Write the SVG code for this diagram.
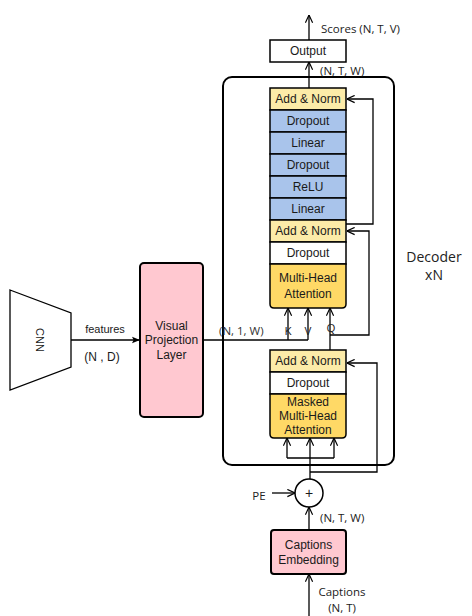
<svg xmlns="http://www.w3.org/2000/svg" width="472" height="616" viewBox="0 0 472 616">
<style>
.box{stroke:#000;stroke-width:1.5}
.thick{stroke:#000;stroke-width:2}
.an{fill:#FCEBA8}
.bl{fill:#A9C4EB}
.wh{fill:#fff}
.mh{fill:#FFD966}
.pk{fill:#FFC8D0}
.t{font-family:"Liberation Sans",Arial,sans-serif;font-size:12px;fill:#1a1a1a;text-anchor:middle;dominant-baseline:central}
.l{font-family:"Open Sans","Noto Sans",sans-serif;font-size:11.5px;fill:#222;dominant-baseline:central}
.c{fill:none;stroke:#000;stroke-width:1.3}
</style>
<defs>
<marker id="open" viewBox="0 0 10 10" refX="9.5" refY="5" markerWidth="9" markerHeight="9" markerUnits="userSpaceOnUse" orient="auto">
<path d="M1,1 L9.5,5 L1,9" fill="none" stroke="#000" stroke-width="1.3"/>
</marker>
<marker id="block" viewBox="0 0 10 10" refX="10" refY="5" markerWidth="8" markerHeight="8" markerUnits="userSpaceOnUse" orient="auto">
<path d="M0,1 L10,5 L0,9 L2,5 Z" fill="#000"/>
</marker>
</defs>
<rect width="472" height="616" fill="#fff"/>

<g id="decoder">
<rect x="223" y="77" width="171" height="388" rx="9" fill="none" class="thick"/>
<text class="l" x="434" y="256" text-anchor="middle" style="font-size:14px">Decoder</text>
<text class="l" x="434" y="274" text-anchor="middle" style="font-size:14px">xN</text>
</g>

<g id="output">
<rect x="270" y="40" width="76" height="22" class="box wh"/>
<text class="t" x="308" y="51">Output</text>
</g>

<g id="ff-stack">
<rect x="270" y="88" width="76" height="22" class="box an"/>
<text class="t" x="308" y="99">Add &amp; Norm</text>
<rect x="270" y="110" width="76" height="22" class="box bl"/>
<text class="t" x="308" y="121">Dropout</text>
<rect x="270" y="132" width="76" height="22" class="box bl"/>
<text class="t" x="308" y="143">Linear</text>
<rect x="270" y="154" width="76" height="22" class="box bl"/>
<text class="t" x="308" y="165">Dropout</text>
<rect x="270" y="176" width="76" height="22" class="box bl"/>
<text class="t" x="308" y="187">ReLU</text>
<rect x="270" y="198" width="76" height="22" class="box bl"/>
<text class="t" x="308" y="209">Linear</text>
</g>

<g id="cross-attn">
<rect x="270" y="220" width="76" height="22" class="box an"/>
<text class="t" x="308" y="231">Add &amp; Norm</text>
<rect x="270" y="242" width="76" height="22" class="box wh"/>
<text class="t" x="308" y="253">Dropout</text>
<path d="M270,264 H346 V304 Q346,308 342,308 H274 Q270,308 270,304 Z" class="box mh"/>
<text class="t" x="308" y="278">Multi-Head</text>
<text class="t" x="308" y="294">Attention</text>
</g>

<g id="self-attn">
<rect x="270" y="350" width="76" height="22" class="box an"/>
<text class="t" x="308" y="361">Add &amp; Norm</text>
<rect x="270" y="372" width="76" height="22" class="box wh"/>
<text class="t" x="308" y="383">Dropout</text>
<path d="M270,394 H346 V434 Q346,438 342,438 H274 Q270,438 270,434 Z" class="box mh"/>
<text class="t" x="308" y="402">Masked</text>
<text class="t" x="308" y="416">Multi-Head</text>
<text class="t" x="308" y="430">Attention</text>
</g>

<g id="cnn">
<polygon points="10,290 71,313 71,367 10,390" fill="#fff" stroke="#000" stroke-width="1.3"/>
<text class="t" x="40" y="340" transform="rotate(90 40 340)" style="font-size:11px">CNN</text>
</g>

<g id="visual-projection">
<rect x="140" y="263" width="63" height="154" rx="4" class="thick pk"/>
<text class="t" x="171.5" y="326">Visual</text>
<text class="t" x="171.5" y="340">Projection</text>
<text class="t" x="171.5" y="355">Layer</text>
</g>

<g id="pe-add">
<circle cx="309" cy="493" r="14" fill="#fff" stroke="#000" stroke-width="1.5"/>
<text class="t" x="309" y="493" style="font-size:14px">+</text>
</g>

<g id="captions-embedding">
<rect x="271" y="530" width="75" height="44" rx="3" class="thick pk"/>
<text class="t" x="308.5" y="545">Captions</text>
<text class="t" x="308.5" y="560">Embedding</text>
</g>

<g id="connectors">
<path class="c" d="M309,40 V15" marker-end="url(#open)"/>
<path class="c" d="M309,88 V62" marker-end="url(#open)"/>
<path class="c" d="M346,224 H373 V99 H347" marker-end="url(#open)"/>
<path class="c" d="M330,335 H369 V231 H347" marker-end="url(#open)"/>
<path class="c" d="M330,350 V308" marker-end="url(#open)"/>
<path class="c" d="M203,340 H308"/>
<path class="c" d="M288,340 V308" marker-end="url(#open)"/>
<path class="c" d="M308,340 V308" marker-end="url(#open)"/>
<path class="c" d="M310,479 V458"/>
<path class="c" d="M287,458 H334"/>
<path class="c" d="M287,458 V438" marker-end="url(#open)"/>
<path class="c" d="M310,458 V438" marker-end="url(#open)"/>
<path class="c" d="M334,458 V438" marker-end="url(#open)"/>
<path class="c" d="M310,472 H377 V363 H347" marker-end="url(#open)"/>
<path class="c" d="M272,493 H295" marker-end="url(#open)"/>
<path class="c" d="M309,530 V507" marker-end="url(#open)"/>
<path class="c" d="M309,616 V574" marker-end="url(#open)"/>
<path class="c" d="M71,340 H140" marker-end="url(#block)"/>
</g>

<g id="labels">
<text class="l" x="321" y="28">Scores (N, T, V)</text>
<text class="l" x="320" y="70">(N, T, W)</text>
<text class="l" x="219" y="330" style="fill:#333">(N, 1, W)</text>
<text class="l" x="288" y="330" text-anchor="middle">K</text>
<text class="l" x="308" y="330" text-anchor="middle">V</text>
<text class="l" x="331" y="327" text-anchor="middle">Q</text>
<text class="t" x="105" y="329" style="font-size:11px">features</text>
<text class="t" x="102" y="357">(N , D)</text>
<text class="l" x="259" y="495" text-anchor="middle">PE</text>
<text class="l" x="320" y="517">(N, T, W)</text>
<text class="l" x="342" y="591" text-anchor="middle">Captions</text>
<text class="l" x="342" y="607" text-anchor="middle">(N, T)</text>
</g>
</svg>
